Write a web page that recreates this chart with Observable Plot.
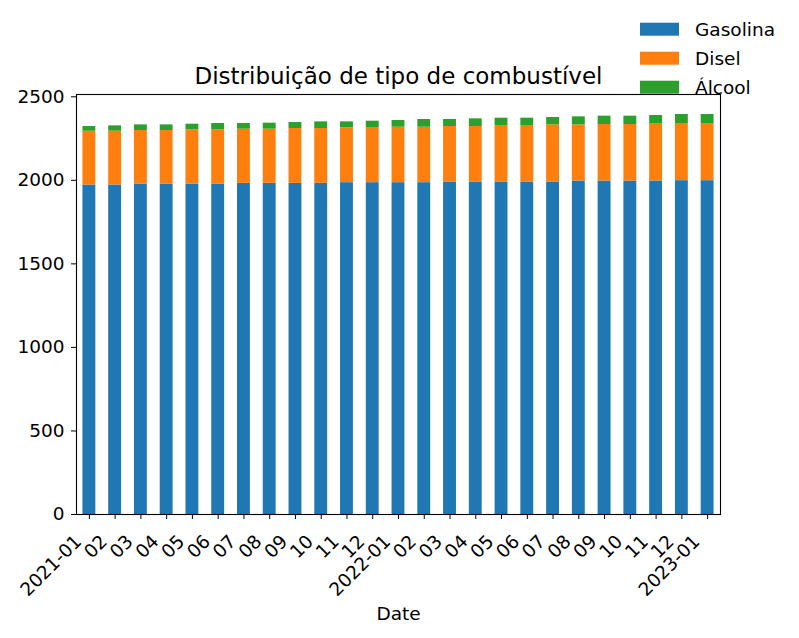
<!DOCTYPE html>
<html><head><meta charset="utf-8">
<script src="https://cdn.jsdelivr.net/npm/d3@7"></script>
<script src="https://cdn.jsdelivr.net/npm/@observablehq/plot@0.6"></script>
<style>
body{margin:0;background:#fff;}
#chart svg{display:block;font-family:"DejaVu Sans",sans-serif;}
</style>
</head><body><div id="chart"></div>
<script>
const dates = ["2021-01","2021-02","2021-03","2021-04","2021-05","2021-06","2021-07","2021-08","2021-09","2021-10","2021-11","2021-12",
  "2022-01","2022-02","2022-03","2022-04","2022-05","2022-06","2022-07","2022-08","2022-09","2022-10","2022-11","2022-12","2023-01"];
const tickLabels = ["2021-01","02","03","04","05","06","07","08","09","10","11","12",
  "2022-01","02","03","04","05","06","07","08","09","10","11","12","2023-01"];
const gasolina = [1972,1972,1978,1978,1978,1978,1982,1982,1982,1982,1986,1986,1986,1986,1990,1990,1990,1990,1990,1996,1996,1996,1996,1998,1998];
const disel    = [322,322,320,320,324,324,324,324,328,328,328,330,332,332,332,332,338,338,342,336,338,338,344,342,342];
const alcool   = [28,32,34,34,34,38,34,36,36,40,36,38,40,46,42,46,44,44,44,48,50,50,48,54,54];
const fuels = ["Gasolina","Disel","Álcool"];
const colors = ["#1f77b4","#ff7f0e","#2ca02c"];
const yTicks = [0,500,1000,1500,2000,2500];
const title = "Distribuição de tipo de combustível";
const xLabel = "Date";

const series = [gasolina, disel, alcool];
const rows = [];
dates.forEach((d, i) => fuels.forEach((f, k) => rows.push({date: d, fuel: f, value: series[k][i]})));
const totals = dates.map((d, i) => gasolina[i] + disel[i] + alcool[i]);
const yMax = d3.max(totals) * 1.05;
const labelOf = new Map(dates.map((d, i) => [d, tickLabels[i]]));

const legend = () => {
  const g = d3.create("svg:g").attr("font-family", "DejaVu Sans").attr("font-size", 18.5).attr("text-anchor", "start");
  fuels.forEach((f, i) => {
    g.append("rect").attr("x", 640).attr("y", 22.7 + 29 * i).attr("width", 39).attr("height", 13).attr("fill", colors[i]);
    g.append("text").attr("x", 695).attr("y", 36 + 29 * i).attr("fill", "black").attr("text-anchor", "start").text(f);
  });
  return g.node();
};

const chart = Plot.plot({
  width: 799,
  height: 638,
  marginLeft: 76,
  marginRight: 79,
  marginTop: 94,
  marginBottom: 124,
  style: {fontFamily: "DejaVu Sans", fontSize: "18.5px", color: "black", background: "white"},
  x: {type: "band", domain: dates, paddingInner: 0.5, paddingOuter: 0.25, round: false, label: null},
  y: {domain: [0, yMax], label: null},
  color: {domain: fuels, range: colors},
  marks: [
    Plot.barY(rows, {x: "date", y: "value", fill: "fuel", order: fuels}),
    Plot.axisY({ticks: yTicks, tickSize: 5, tickPadding: 7, tickFormat: d => String(d), label: null, fontSize: 18.5}),
    Plot.axisX({tickSize: 5, tickFormat: () => "", label: null}),
    Plot.axisX({tickSize: 0, tickPadding: 24, dx: -11, tickRotate: -45, textAnchor: "end", lineAnchor: "middle",
      tickFormat: d => labelOf.get(d), label: null, fontSize: 18.5}),
    Plot.text([xLabel], {frameAnchor: "bottom", lineAnchor: "middle", dy: 100, fontSize: 18.5, text: d => d}),
    Plot.text([title], {frameAnchor: "top", lineAnchor: "middle", dy: -18, fontSize: 23, text: d => d}),
    Plot.frame({stroke: "black", strokeWidth: 1.1}),
    legend
  ]
});
document.getElementById("chart").append(chart);
</script>
</body></html>
